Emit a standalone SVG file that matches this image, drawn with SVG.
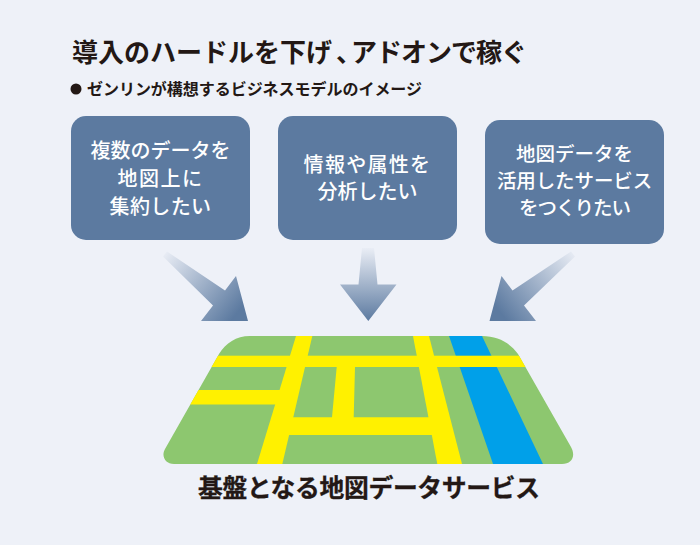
<svg xmlns="http://www.w3.org/2000/svg" width="700" height="545" viewBox="0 0 700 545">
<style>
text{font-family:"Noto Sans CJK JP","Noto Sans",sans-serif;font-weight:700}
.t{fill:#231815}
.b{fill:#5c7aa0}
.l{fill:#fff;font-size:20px;text-anchor:middle;font-weight:500}
.m{font-size:19.500px}
.g{fill:#8dc76f}.y{fill:#fff100}.r{fill:#00a0e9}
</style>
<defs>
<linearGradient id="a1" gradientUnits="userSpaceOnUse" x1="165" y1="252" x2="238" y2="312"><stop offset="0" stop-color="#5c7aa0" stop-opacity="0.03"/><stop offset="1" stop-color="#5c7aa0"/></linearGradient>
<linearGradient id="a2" gradientUnits="userSpaceOnUse" x1="368" y1="248" x2="368" y2="321"><stop offset="0" stop-color="#5c7aa0" stop-opacity="0.03"/><stop offset="1" stop-color="#5c7aa0"/></linearGradient>
<linearGradient id="a3" gradientUnits="userSpaceOnUse" x1="575" y1="252" x2="500" y2="312"><stop offset="0" stop-color="#5c7aa0" stop-opacity="0.03"/><stop offset="1" stop-color="#5c7aa0"/></linearGradient>
<clipPath id="m"><path d="M250 336H482C498 336 510 343 518 354L571 447C576 456 572 464 562 464H174C165 464 161 456 165 449L219 354C226 343 236 336 250 336Z"/></clipPath>
</defs>
<rect width="700" height="545" fill="#eef1f8"/>
<g id="title"><text class="t" y="62" font-size="26" x="72 98 124 150 176 202 228 254 280 306 336 351 376 401 426 451 476 501">導入のハードルを下げ、アドオンで稼ぐ</text></g>
<g id="subtitle"><circle class="t" cx="76" cy="89" r="5.500"/><text class="t" x="87" y="95" font-size="16" font-weight="500" textLength="335" lengthAdjust="spacing">ゼンリンが構想するビジネスモデルのイメージ</text></g>
<g id="node1"><rect class="b" x="71" y="116" width="179" height="124" rx="15"/><text class="l" x="160.500" y="158">複数のデータを</text><text class="l" x="160.500" y="186" letter-spacing="1.500">地図上に</text><text class="l" x="160.500" y="214" letter-spacing="0.400">集約したい</text></g>
<g id="node2"><rect class="b" x="278" y="116" width="179" height="124" rx="15"/><text class="l" x="367.500" y="172" letter-spacing="1.300">情報や属性を</text><text class="l" x="367.500" y="199">分析したい</text></g>
<g id="node3"><rect class="b" x="485" y="120" width="179" height="124" rx="15"/><text class="l m" x="574.500" y="161">地図データを</text><text class="l m" x="574.500" y="188" letter-spacing="-0.100">活用したサービス</text><text class="l m" x="574.500" y="215" letter-spacing="-1">をつくりたい</text></g>
<g id="connectors">
<path fill="url(#a1)" d="M167 251.500L163 256.500L213 305.500L201 321H248L236 276L225 290.500Z"/>
<path fill="url(#a2)" d="M362 248H374L377.500 284.500H396.500L368.300 321L340 284.500H358.500Z"/>
<path fill="url(#a3)" d="M571 251.500L575 256.500L524 305.500L536 321H489.500L501.500 276L512.500 290.500Z"/>
</g>
<g id="map" clip-path="url(#m)">
<rect class="g" x="150" y="330" width="440" height="140"/>
<path class="r" d="M449 336H482L543 464H493Z"/>
<g class="y">
<rect x="190" y="355.700" width="350" height="11.300"/>
<path d="M296 336H312.300L282.300 464H257Z"/>
<path d="M413 336H429L462 464H437.300Z"/>
<path d="M336.700 367H355L353.700 417.500V435H332V417.300Z"/>
<path d="M180 390H285V404.500H180Z"/>
<path d="M280 417.300H440V435H280Z"/>
</g>
</g>
<g id="caption"><text class="t" x="198" y="497" font-size="24.800" font-weight="500" textLength="342" lengthAdjust="spacing" stroke="#231815" stroke-width="0.300">基盤となる地図データサービス</text></g>
</svg>
